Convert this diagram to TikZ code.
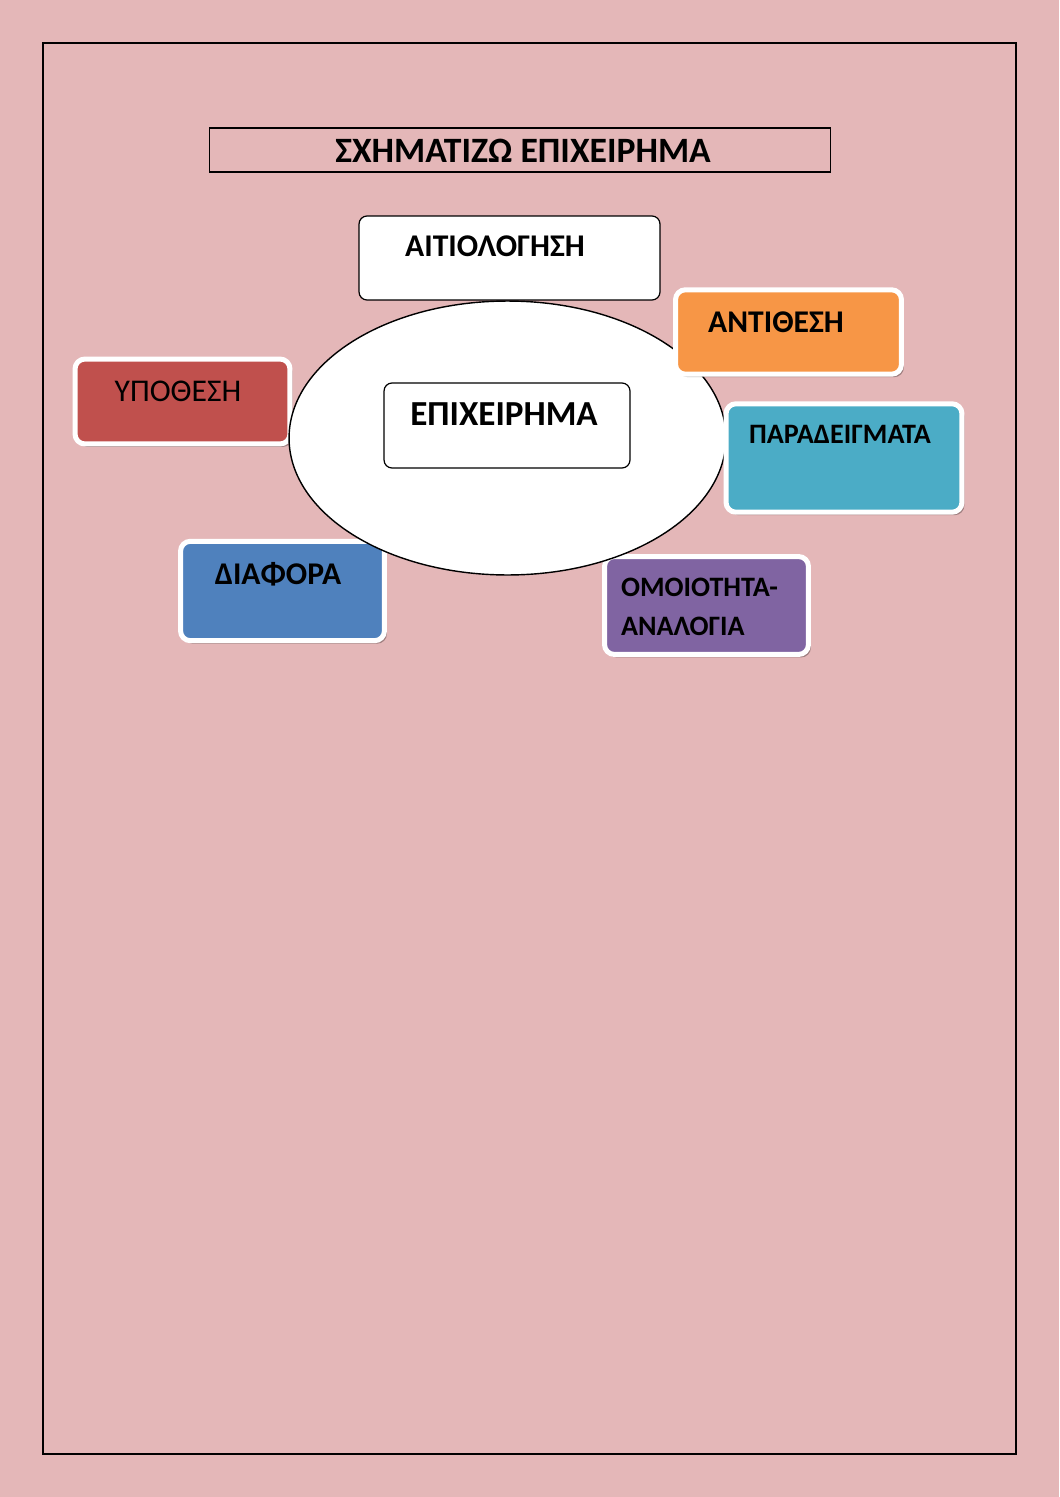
\documentclass[tikz,border=0pt]{standalone}
\usepackage{fontspec}
\setmainfont{Carlito}
\usepackage{tikz}
\usetikzlibrary{shapes.geometric,shadows}

\definecolor{pagepink}{RGB}{228,183,184}
\definecolor{hypred}{HTML}{C0504D}
\definecolor{antorange}{HTML}{F79646}
\definecolor{exmpteal}{HTML}{4BACC6}
\definecolor{diffblue}{HTML}{4F81BD}
\definecolor{simpurple}{HTML}{8064A2}

\begin{document}
\begin{tikzpicture}[
    x=0.02cm, y=-0.02cm,
    every node/.style={inner sep=0pt, outer sep=0pt},
    plain/.style={draw, line width=0.7pt, fill=white, rounded corners=0.16cm},
    tile/.style={draw=white, line width=0.1cm, rounded corners=0.2cm,
drop shadow={shadow xshift=0.05cm, shadow yshift=-0.06cm, fill=black, opacity=0.3}},
    big/.style={font=\fontsize{20}{24}\selectfont\bfseries},
    mid/.style={font=\fontsize{18}{22}\selectfont\bfseries},
    small/.style={font=\fontsize{16}{21.8}\selectfont\bfseries}]

    \useasboundingbox[fill=pagepink] (0,0) rectangle (1059,1497);

    \node[draw, line width=1.2pt, minimum width=19.46cm, minimum height=28.22cm] (frame) at (529.5,748.5) {};
    \node[draw, line width=0.6pt, minimum width=12.44cm, minimum height=0.88cm] (title) at (520,150) {};
        \node[big, font=\fontsize{20.3}{24}\selectfont\bfseries] (titletxt) at (523,151) {ΣΧΗΜΑΤΙΖΩ ΕΠΙΧΕΙΡΗΜΑ};

    \node[plain, minimum width=6.02cm, minimum height=1.68cm] (reason) at (509.5,258) {};
        \node[mid] (reasontxt) at (495,246) {ΑΙΤΙΟΛΟΓΗΣΗ};
    \node[tile, fill=hypred, minimum width=4.30cm, minimum height=1.70cm] (hyp) at (182.5,401.5) {};
        \node[font=\fontsize{18}{22}\selectfont] (hyptxt) at (178,391) {ΥΠΟΘΕΣΗ};
    \node[tile, fill=diffblue, minimum width=4.08cm, minimum height=1.99cm] (diff) at (282.5,591) {};
        \node[mid] (difftxt) at (278,574) {ΔΙΑΦΟΡΑ};
    \node[tile, fill=simpurple, minimum width=4.08cm, minimum height=1.96cm] (simil) at (706.5,605.5) {};
        \node[small, align=left, anchor=west] (similtxt) at (621,607) {ΟΜΟΙΟΤΗΤΑ-\\ΑΝΑΛΟΓΙΑ};

    \node[ellipse, draw, line width=0.8pt, fill=white, minimum width=8.74cm, minimum height=5.48cm] (oval) at (507.5,438) {};

    \node[tile, fill=antorange, minimum width=4.52cm, minimum height=1.69cm] (anti) at (788.5,332) {};
        \node[mid] (antitxt) at (776,322) {ΑΝΤΙΘΕΣΗ};
    \node[tile, fill=exmpteal, minimum width=4.72cm, minimum height=2.17cm] (exmp) at (844,458) {};
        \node[small] (exmptxt) at (840,434.5) {ΠΑΡΑΔΕΙΓΜΑΤΑ};
    \node[plain, minimum width=4.92cm, minimum height=1.70cm] (arg) at (507,425.5) {};
        \node[big] (argtxt) at (504,414.5) {ΕΠΙΧΕΙΡΗΜΑ};

\end{tikzpicture}
\end{document}
